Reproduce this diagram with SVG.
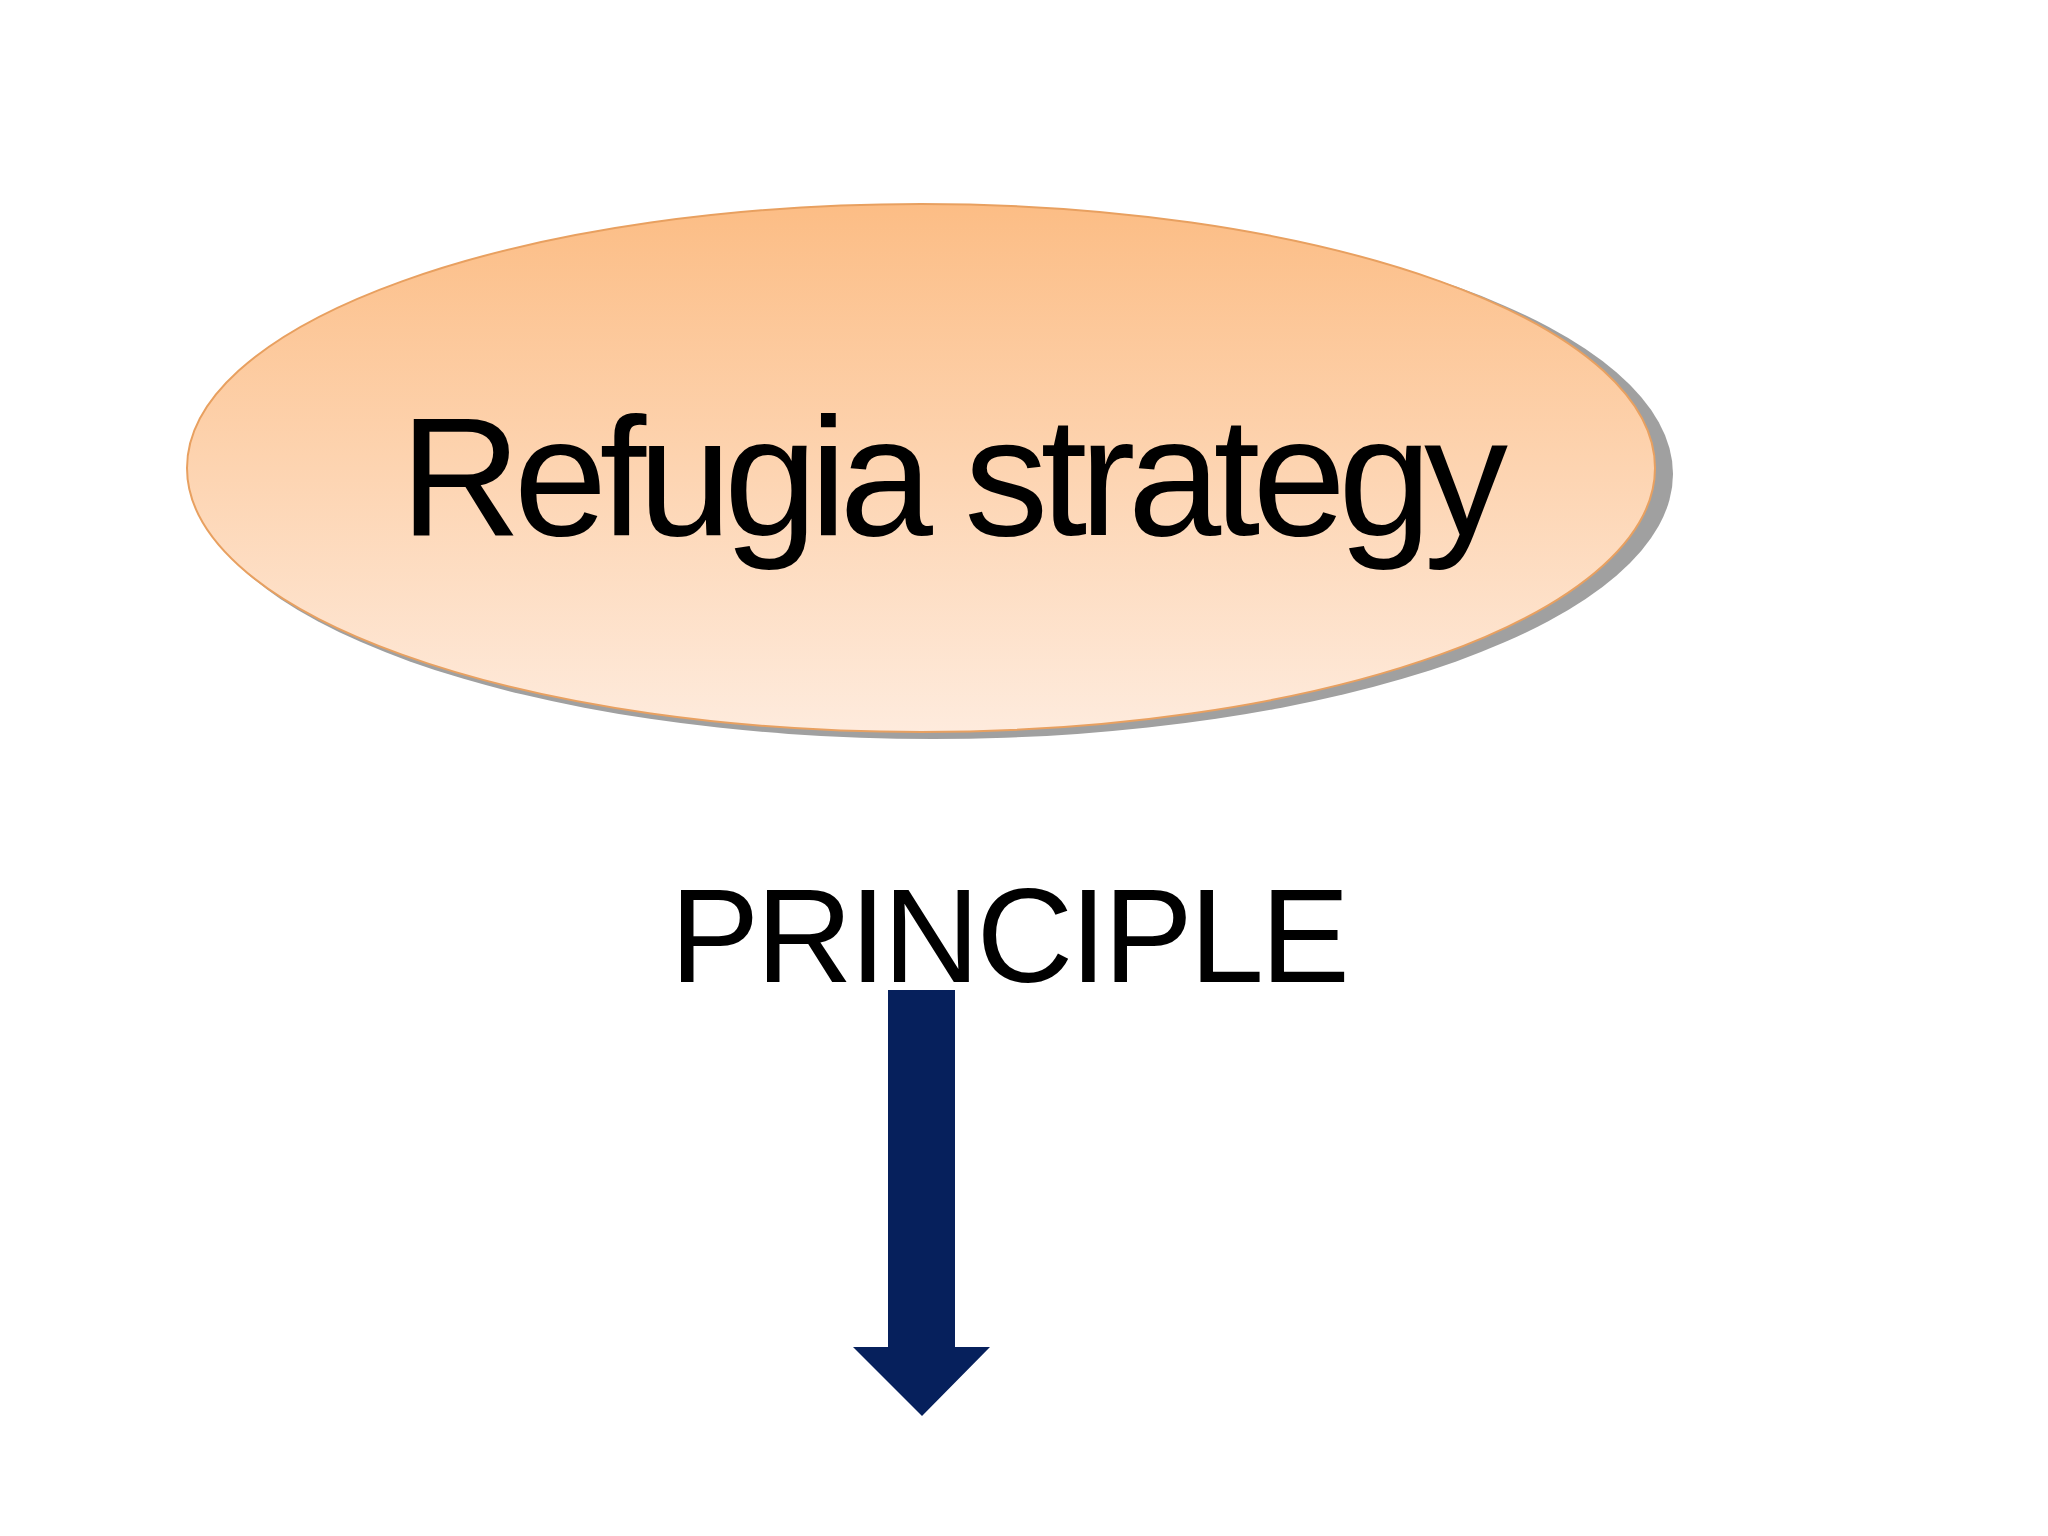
<svg xmlns="http://www.w3.org/2000/svg" width="2048" height="1536" viewBox="0 0 2048 1536">
<defs>
<linearGradient id="g" x1="0" y1="0" x2="0" y2="1">
<stop offset="0" stop-color="#FCBD85"/>
<stop offset="1" stop-color="#FEEBDD"/>
</linearGradient>
</defs>
<style>.t{font-family:"Liberation Sans",Arial,sans-serif;fill:#000}</style>
<rect width="2048" height="1536" fill="#fff"/>
<g id="refugia">
<ellipse cx="933" cy="474" rx="740" ry="265" fill="#A0A0A0"/>
<ellipse cx="921" cy="468" rx="734" ry="264" fill="url(#g)" stroke="#E8A060" stroke-width="2"/>
<text class="t" x="954" y="535" font-size="168" text-anchor="middle" textLength="1108" lengthAdjust="spacing">Refugia strategy</text>
</g>
<g id="principle">
<text class="t" x="1010" y="982" font-size="134" text-anchor="middle" textLength="680" lengthAdjust="spacing">PRINCIPLE</text>
</g>
<g id="connectors">
<polygon points="888,990 955,990 955,1347 990,1347 922,1416 853,1347 888,1347" fill="#06205C"/>
</g>
</svg>
